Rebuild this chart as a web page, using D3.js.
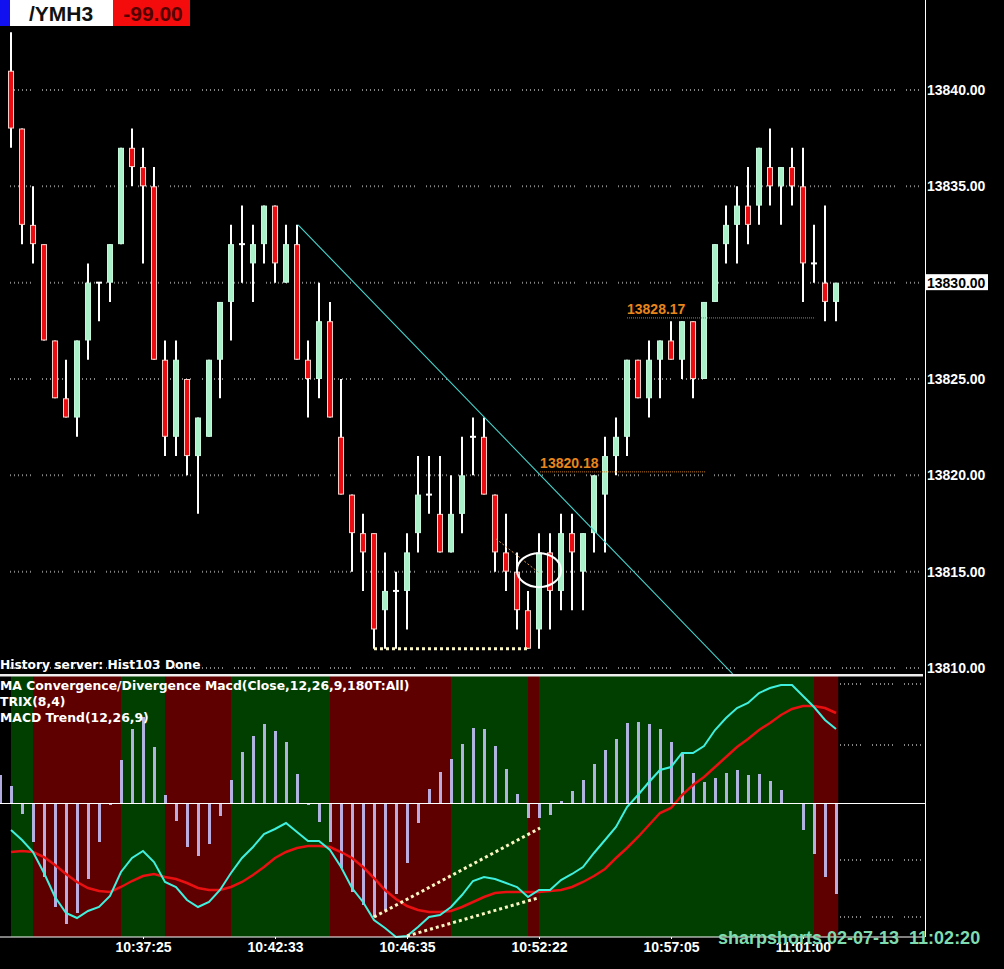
<!DOCTYPE html>
<html lang="en">
<head>
<meta charset="UTF-8">
<title>/YMH3 candlestick chart</title>
<script src="https://d3js.org/d3.v7.min.js"></script>
<style>
    html, body { margin: 0; padding: 0; background: #000; overflow: hidden; }
    svg { display: block; }
    text { font-family: "Liberation Sans", Arial, sans-serif; font-weight: bold; }
    .pane-label { font-family: "DejaVu Sans", sans-serif; font-size: 12.4px; fill: #fff; }
    .grid { stroke: #858585; stroke-width: 2; stroke-dasharray: 1 3 1 3 1 3 1 3 1 3 1 11; fill: none; }
    .symbol { font-size: 21px; }
</style>
</head>
<body>
<div id="chart"></div>
<script>
    const opens = [13841,13838,13833,13832,13827,13824,13823,13827,13830,13830,13832,13837,13836,13835,13826,13822,13825,13821,13822,13826,13829,13832,13831,13832,13834,13830,13832,13826,13825,13828,13822,13819,13817,13817,13813,13814,13814,13817,13819,13818,13816,13818,13822,13822,13819,13816,13815,13813,13812,13816,13814,13817,13815,13817,13819,13821,13822,13826,13824,13826,13827,13826,13828,13825,13829,13832,13833,13834,13834,13836,13835,13836,13835,13831,13830,13829];
    const closes = [13838,13833,13832,13827,13824,13823,13827,13830,13830,13832,13837,13836,13835,13826,13822,13826,13821,13823,13826,13829,13832,13832,13832,13834,13831,13832,13826,13825,13828,13823,13819,13817,13816,13812,13814,13814,13816,13819,13819,13816,13818,13820,13822,13819,13816,13815,13813,13811,13816,13814,13817,13816,13817,13820,13821,13822,13826,13824,13826,13827,13826,13828,13825,13829,13832,13833,13834,13833,13837,13835,13836,13835,13831,13831,13829,13830];
    const highs = [13843,13838,13835,13832,13827,13826,13827,13831,13830,13832,13837,13838,13837,13836,13827,13827,13825,13823,13826,13829,13833,13834,13833,13834,13834,13833,13833,13827,13830,13829,13825,13819,13818,13817,13816,13815,13817,13821,13821,13821,13820,13822,13823,13823,13819,13818,13816,13814,13817,13817,13818,13818,13817,13820,13822,13823,13826,13826,13827,13827,13828,13828,13828,13829,13832,13834,13835,13836,13837,13838,13836,13837,13837,13833,13834,13830];
    const lows = [13837,13832,13831,13827,13824,13823,13822,13826,13828,13829,13832,13835,13831,13826,13821,13821,13820,13818,13822,13824,13827,13830,13829,13831,13830,13830,13826,13823,13824,13823,13819,13815,13814,13811,13811,13811,13812,13816,13818,13816,13816,13817,13820,13819,13815,13814,13812,13811,13811,13812,13813,13813,13813,13816,13816,13820,13821,13824,13823,13824,13826,13825,13824,13825,13829,13831,13831,13832,13833,13834,13833,13834,13829,13830,13828,13828];

    // first histogram bar sits one slot left of the first candle
    const histValues = [2.9,1.8,-1.0,-3.8,-7.3,-10.3,-12.0,-10.9,-7.5,-3.8,-0.1,4.4,7.5,8.7,5.7,0.9,-1.7,-4.3,-5.2,-4.0,-1.2,2.4,5.2,6.8,8.0,7.3,6.2,3.0,-0.1,-1.8,-3.8,-6.4,-8.8,-10.1,-11.3,-10.6,-9.0,-5.9,-1.9,1.5,3.2,4.5,6.0,7.6,7.5,5.8,3.5,1.0,-1.4,-1.4,-1.1,0.3,1.3,2.4,4.0,5.4,6.5,8.1,8.2,8.0,7.5,6.2,5.1,3.1,2.2,2.6,3.1,3.4,2.9,3.0,2.3,1.4,0.1,-2.6,-5.0,-7.3,-9.0];
    const trixValues = [-2.6,-3.6,-4.8,-6.9,-9.3,-10.9,-11.4,-10.7,-10.3,-9.2,-6.8,-5.4,-4.7,-5.8,-7.8,-8.3,-9.6,-10.3,-9.8,-8.6,-6.9,-5.4,-4.3,-3.0,-2.5,-1.9,-2.8,-3.7,-3.7,-4.6,-6.3,-8.4,-9.8,-11.6,-12.4,-13.3,-13.2,-12.3,-11.3,-11.1,-10.3,-9.1,-7.7,-7.3,-7.5,-7.9,-8.3,-9.3,-8.6,-8.6,-7.6,-7.0,-6.3,-4.9,-3.6,-2.3,-0.3,0.9,2.2,3.4,3.7,5.1,5.1,5.8,7.4,8.6,9.6,10.1,11.1,11.6,11.9,11.9,10.8,9.7,8.4,7.5];
    const trendValues = [-4.8,-4.7,-4.8,-5.3,-6.1,-7.0,-7.8,-8.4,-8.7,-8.8,-8.3,-7.7,-7.2,-7.0,-7.3,-7.5,-7.9,-8.4,-8.6,-8.6,-8.3,-7.8,-7.1,-6.3,-5.4,-4.8,-4.4,-4.2,-4.2,-4.3,-4.8,-5.4,-6.3,-7.4,-8.6,-9.5,-10.2,-10.6,-10.8,-10.8,-10.7,-10.3,-9.8,-9.3,-8.9,-8.8,-8.8,-8.8,-8.8,-8.7,-8.6,-8.3,-7.8,-7.2,-6.5,-5.4,-4.4,-3.3,-2.1,-0.9,-0.4,0.9,1.9,2.7,3.7,4.7,5.7,6.5,7.4,8.1,8.9,9.5,9.8,9.8,9.6,9.1];

    const regimeEdges = [0,2,10,14,20,29,40,47,48,73,75.2];
    const regimeKinds = ["up","down","up","down","up","down","up","down","up","down"];

    const priceTicks = [13810,13815,13820,13825,13830,13835,13840];
    const macdGrid = [12,5.9,-5.6,-11.3];
    const timeBars = [12,24,36,48,60,72];
    const timeLabels = ["10:37:25","10:42:33","10:46:35","10:52:22","10:57:05","11:01:00"];
    const paneLabels = ["MA Convergence/Divergence Macd(Close,12,26,9,180T:All)","TRIX(8,4)","MACD Trend(12,26,9)"];
    const levelNotes = [
        { price: 13828.17, from: 56, to: 73.1 },
        { price: 13820.18, from: 48.1, to: 63.1 }
    ];
    const trendLine = [[26.1,13833],[65.6,13809.7]];
    const bottomLine = [[33,13811],[47,13811]];
    const tailLine = [[44.1,13816.7],[48.1,13814.9]];
    const divergenceA = [[33,-11.3],[48.1,-2.4]];
    const divergenceB = [[36,-13.2],[47.9,-9.4]];

    const width = 1004, height = 969;
    const axisX = 925, mainBottom = 674, macdBottom = 937;

    const x = d3.scaleLinear().domain([0,75]).range([11,836]);
    const y = d3.scaleLinear().domain([13810,13840]).range([668,90]);
    const my = d3.scaleLinear().domain([-13.3,12.9]).range([macdBottom,675]);

    const svg = d3.select("#chart").append("svg")
        .attr("width", width)
        .attr("height", height);

    svg.append("rect").attr("width", width).attr("height", height).attr("fill", "#000");

    svg.append("clipPath").attr("id", "main-clip")
        .append("rect").attr("width", axisX).attr("height", mainBottom);

    // price grid
    svg.append("g").selectAll("line")
        .data(priceTicks)
        .enter().append("line")
        .attr("class", "grid")
        .attr("x1", 10).attr("x2", 921)
        .attr("y1", d => y(d)).attr("y2", d => y(d));

    // candles
    const candles = svg.append("g");
    const bars = d3.range(opens.length);

    candles.selectAll(".wick")
        .data(bars)
        .enter().append("line")
        .attr("class", "wick")
        .attr("x1", i => x(i)).attr("x2", i => x(i))
        .attr("y1", i => y(highs[i])).attr("y2", i => y(lows[i]))
        .attr("stroke", "#fff").attr("stroke-width", 2);

    candles.selectAll(".body")
        .data(bars.filter(i => opens[i] !== closes[i]))
        .enter().append("rect")
        .attr("class", "body")
        .attr("x", i => x(i) - 2.5)
        .attr("width", 5)
        .attr("y", i => y(Math.max(opens[i], closes[i])) + 0.5)
        .attr("height", i => Math.abs(y(opens[i]) - y(closes[i])) - 1)
        .attr("fill", i => closes[i] > opens[i] ? "#a9f0c9" : "#ea0c10")
        .attr("stroke", i => closes[i] > opens[i] ? "#c2f7dc" : "#f8cfc8")
        .attr("stroke-width", 1);

    candles.selectAll(".doji")
        .data(bars.filter(i => opens[i] === closes[i]))
        .enter().append("line")
        .attr("class", "doji")
        .attr("x1", i => x(i) - 3).attr("x2", i => x(i) + 3)
        .attr("y1", i => y(opens[i])).attr("y2", i => y(opens[i]))
        .attr("stroke", "#fff").attr("stroke-width", 2);

    // drawn annotations on the price pane
    const priceLine = d3.line().x(d => x(d[0])).y(d => y(d[1]));

    svg.append("path").attr("d", priceLine(trendLine))
        .attr("clip-path", "url(#main-clip)")
        .attr("fill", "none").attr("stroke", "#45d8d0").attr("stroke-width", 1.1);

    svg.append("path").attr("d", priceLine(bottomLine))
        .attr("fill", "none").attr("stroke", "#fbf7c4")
        .attr("stroke-width", 3).attr("stroke-dasharray", "3 3");

    svg.append("path").attr("d", priceLine(tailLine))
        .attr("fill", "none").attr("stroke", "#d8984c")
        .attr("stroke-width", 1).attr("stroke-dasharray", "2 2");

    svg.append("ellipse")
        .attr("cx", x(48)).attr("cy", y(13815.08))
        .attr("rx", 22).attr("ry", 17)
        .attr("fill", "none").attr("stroke", "#fff").attr("stroke-width", 2);

    levelNotes.forEach(n => {
        svg.append("line")
            .attr("x1", x(n.from)).attr("x2", x(n.to))
            .attr("y1", y(n.price)).attr("y2", y(n.price))
            .attr("stroke", "#c97a1c").attr("stroke-width", 1).attr("stroke-dasharray", "1 1");
        svg.append("text")
            .attr("x", x(n.from)).attr("y", y(n.price) - 4)
            .attr("font-size", 14).attr("fill", "#e8861c")
            .text(n.price.toFixed(2));
    });

    svg.append("text")
        .attr("class", "pane-label")
        .attr("x", 0).attr("y", 669)
        .style("font-size", "12.25px")
        .text("History server: Hist103 Done");

    // MACD pane
    svg.append("g").selectAll("line")
        .data(macdGrid)
        .enter().append("line")
        .attr("class", "grid")
        .attr("x1", 840).attr("x2", 921)
        .attr("y1", d => my(d)).attr("y2", d => my(d));

    svg.append("g").selectAll("rect")
        .data(regimeKinds)
        .enter().append("rect")
        .attr("x", (d, i) => x(regimeEdges[i]))
        .attr("width", (d, i) => x(regimeEdges[i + 1]) - x(regimeEdges[i]))
        .attr("y", my.range()[1])
        .attr("height", macdBottom - my.range()[1])
        .attr("fill", d => d === "up" ? "#003f00" : "#5f0000");

    svg.append("g").selectAll("rect")
        .data(histValues)
        .enter().append("rect")
        .attr("x", (d, i) => x(i - 1) - 1)
        .attr("width", 3)
        .attr("y", d => my(Math.max(0, d)))
        .attr("height", d => Math.abs(my(d) - my(0)))
        .attr("fill", "#c8c4ff")
        .attr("fill-opacity", 0.88);

    const macdLine = d3.line().x((d, i) => x(i)).y(d => my(d));

    svg.append("path").attr("d", macdLine(trendValues))
        .attr("fill", "none").attr("stroke", "#e81010").attr("stroke-width", 2.5);

    svg.append("path").attr("d", macdLine(trixValues))
        .attr("fill", "none").attr("stroke", "#3ff0de").attr("stroke-width", 2);

    const macdPoint = d3.line().x(d => x(d[0])).y(d => my(d[1]));
    [divergenceA, divergenceB].forEach(seg => {
        svg.append("path").attr("d", macdPoint(seg))
            .attr("fill", "none").attr("stroke", "#fbf7c4")
            .attr("stroke-width", 3).attr("stroke-dasharray", "3 3");
    });

    svg.append("g").selectAll("text")
        .data(paneLabels)
        .enter().append("text")
        .attr("class", "pane-label")
        .attr("x", 0)
        .attr("y", (d, i) => 690 + i * 16)
        .text(d => d);

    // frame lines
    svg.append("rect").attr("x", 0).attr("y", 674).attr("width", 923).attr("height", 2.5).attr("fill", "#eee");
    svg.append("line").attr("x1", 0).attr("x2", axisX).attr("y1", my(0) - 0.5).attr("y2", my(0) - 0.5).attr("stroke", "#fff");
    svg.append("line").attr("x1", 0).attr("x2", axisX).attr("y1", macdBottom).attr("y2", macdBottom).attr("stroke", "#fff");
    svg.append("line").attr("x1", axisX + 0.5).attr("x2", axisX + 0.5).attr("y1", 0).attr("y2", macdBottom).attr("stroke", "#fff");

    // axes
    const priceAxis = svg.append("g")
        .attr("transform", `translate(${axisX + 2},0)`)
        .call(d3.axisRight(y).tickValues(priceTicks).tickSize(0).tickPadding(0).tickFormat(d3.format(".2f")));
    priceAxis.select(".domain").remove();
    priceAxis.selectAll("text").attr("font-size", 14).attr("font-family", null).attr("fill", "#fff");

    const lastPrice = priceAxis.selectAll(".tick").filter(d => d === 13830);
    lastPrice.insert("rect", "text")
        .attr("x", -1).attr("y", -9).attr("width", 62).attr("height", 16).attr("fill", "#fff");
    lastPrice.select("text").attr("fill", "#000");

    const timeAxis = svg.append("g")
        .attr("transform", `translate(0,${macdBottom})`)
        .call(d3.axisBottom(x).tickValues(timeBars).tickSize(2).tickPadding(3).tickFormat((d, i) => timeLabels[i]));
    timeAxis.select(".domain").remove();
    timeAxis.selectAll("line").attr("stroke", "#fff");
    timeAxis.selectAll("text").attr("font-size", 14).attr("font-family", null).attr("fill", "#fff");

    // title boxes
    const title = svg.append("g");
    title.append("rect").attr("width", 10).attr("height", 26).attr("fill", "#1010f0");
    title.append("rect").attr("x", 10).attr("width", 103).attr("height", 26).attr("fill", "#fff");
    title.append("rect").attr("x", 113).attr("width", 77).attr("height", 26).attr("fill", "#f40c0c");
    title.append("text").attr("class", "symbol").attr("x", 61).attr("y", 21).attr("text-anchor", "middle")
        .attr("fill", "#111").text("/YMH3");
    title.append("text").attr("class", "symbol").attr("x", 153).attr("y", 21).attr("text-anchor", "middle")
        .attr("fill", "#500").text("-99.00");

    svg.append("text")
        .attr("x", 718).attr("y", 944)
        .attr("font-size", 18).attr("fill", "#7fdcb0")
        .style("white-space", "pre")
        .text("sharpshorts 02-07-13  11:02:20");
</script>
</body>
</html>
